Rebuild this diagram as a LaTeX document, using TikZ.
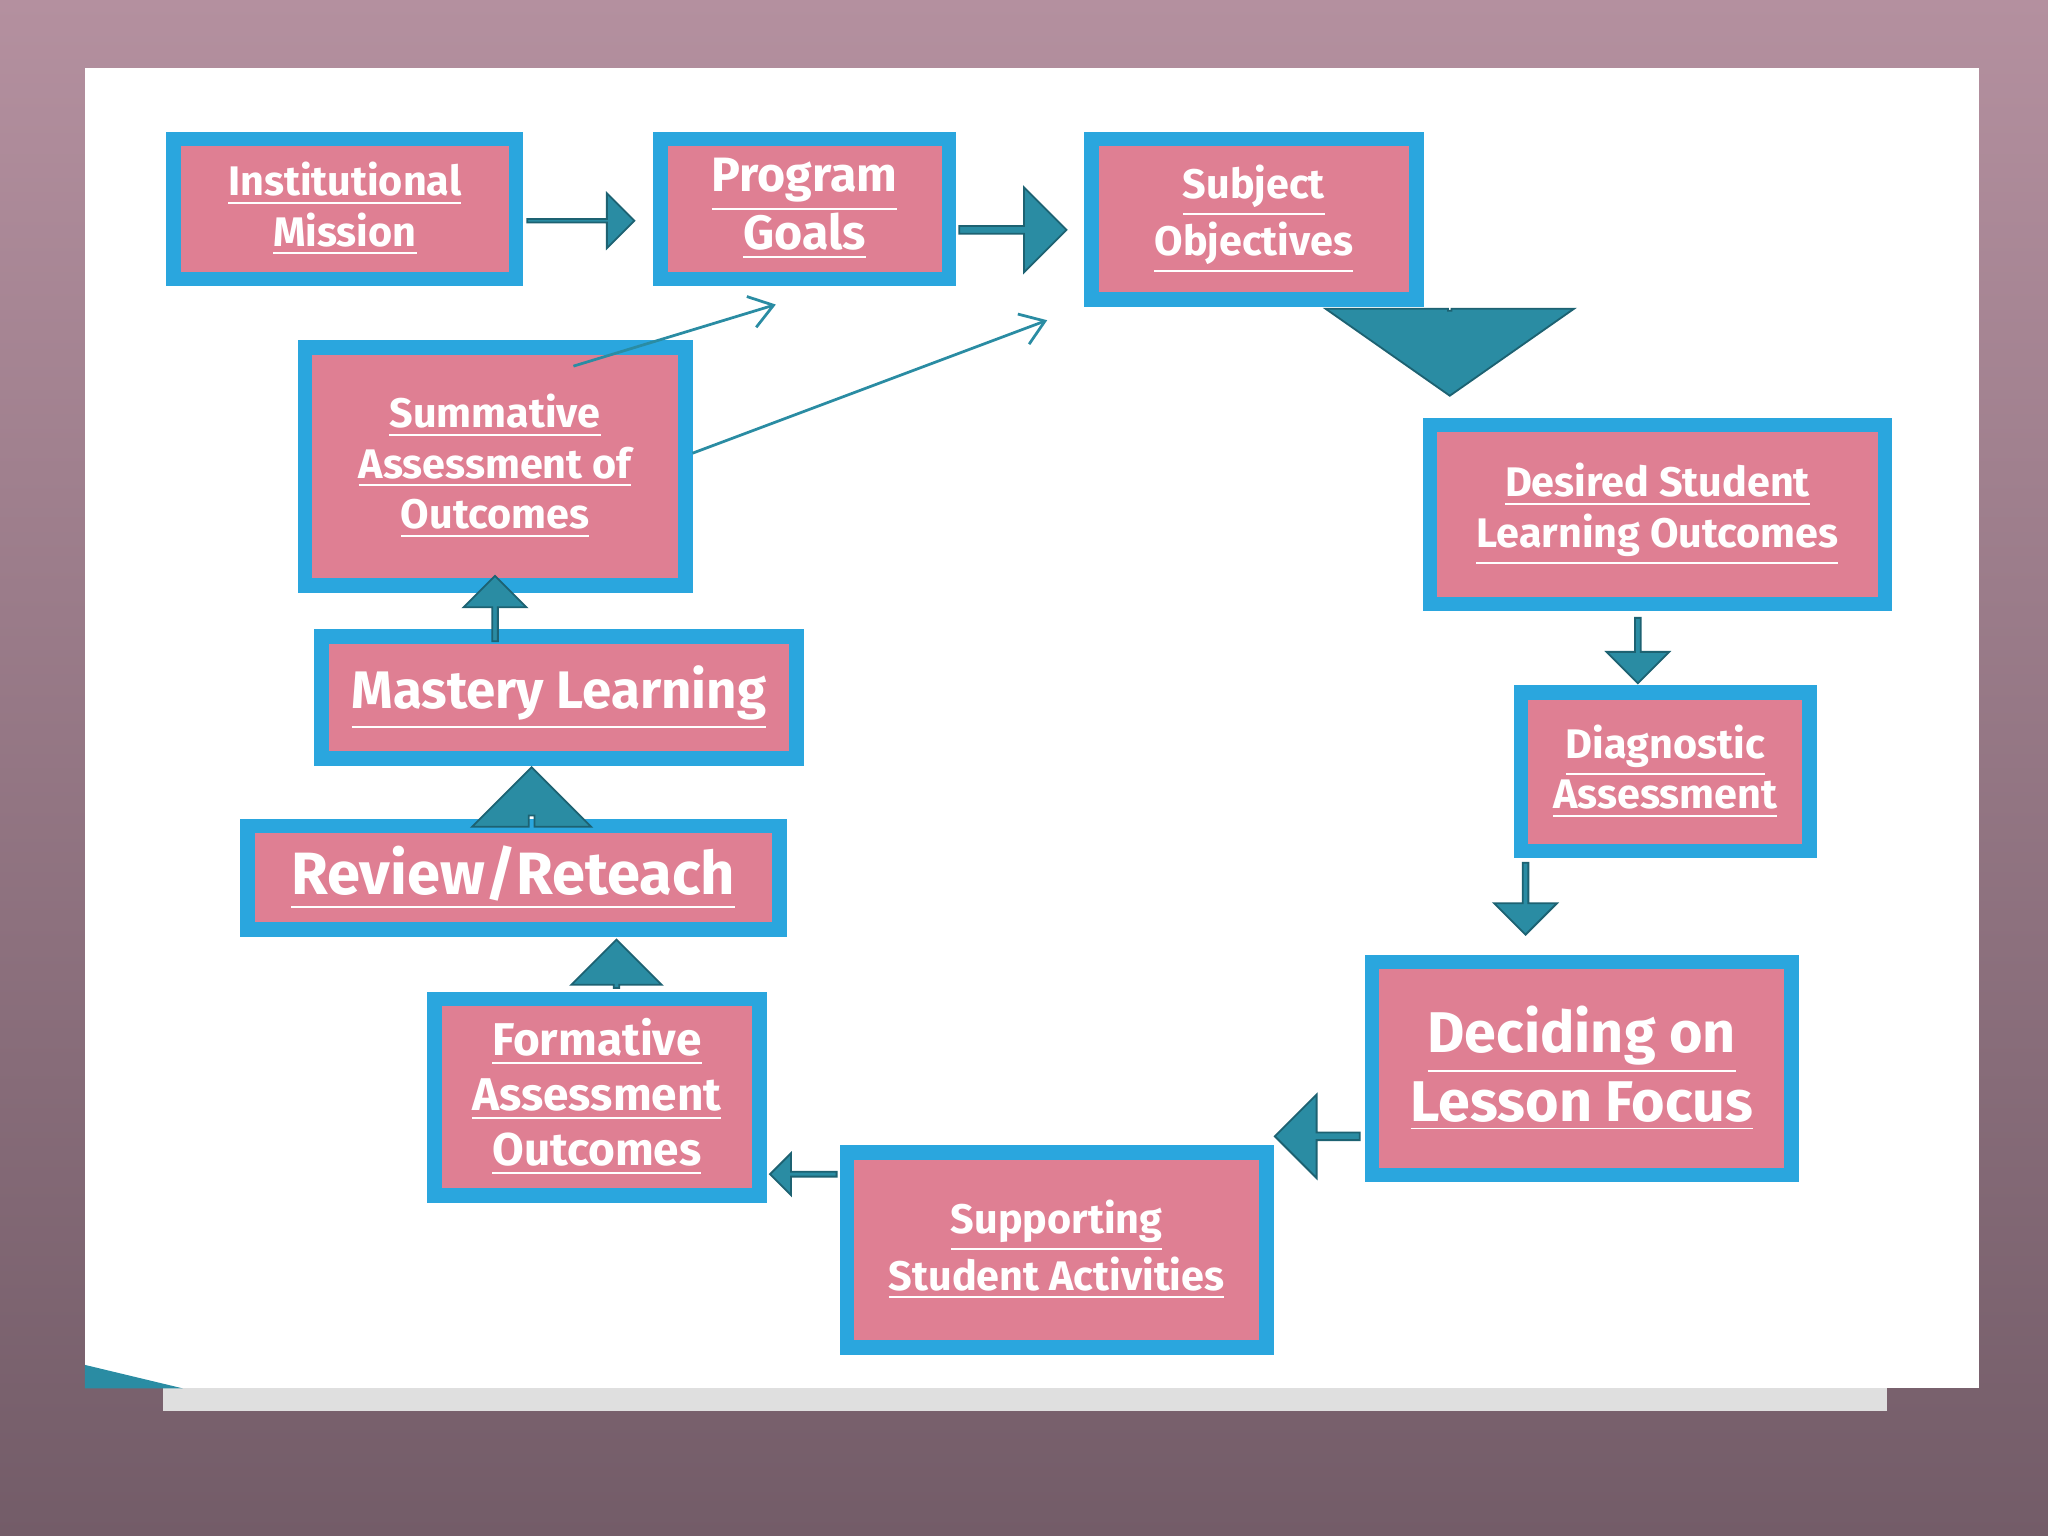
\documentclass[tikz,border=0pt]{standalone}
\usepackage{fontspec}
\setmainfont{Fira Sans}
\usetikzlibrary{shapes.arrows,arrows.meta}
\definecolor{pinkbox}{HTML}{DF7F93}
\definecolor{bluebd}{HTML}{2AA6DE}
\definecolor{teal}{HTML}{2A8CA3}
\definecolor{bgtop}{HTML}{B4909F}
\definecolor{bgbot}{HTML}{735C68}
\tikzset{
 bx/.style={draw=bluebd,line width=3.2pt,fill=pinkbox,inner sep=0pt,align=center,text=white,font=\bfseries\fontsize{9}{11}\selectfont,
   append after command={[draw=gray!70,line width=0.5pt] (\tikzlastnode.south west) ++(4pt,4pt) rectangle ([xshift=-4pt,yshift=-4pt]\tikzlastnode.north east)}},
 blk/.style={single arrow,fill=teal,draw=teal!70!black,line width=0.4pt,inner sep=0pt,single arrow head extend=4pt},
 thin/.style={teal,line width=0.6pt,-{Straight Barb[length=5pt,width=7pt]}}
}
\newcommand{\ul}[1]{\underline{#1}}
\begin{document}
\begin{tikzpicture}[x=0.01cm,y=-0.01cm]
\shade[top color=bgtop,bottom color=bgbot] (0,0) rectangle (1568,1176);
\fill[gray!25] (125,1063) rectangle (1445,1080);
\fill[white] (65,52) rectangle (1515,1063);
\fill[teal] (65,1045) -- (140,1063) -- (65,1063) -- cycle;
\useasboundingbox (0,0) rectangle (1568,1176);
% boxes
\node[bx,minimum width=2.62cm,minimum height=1.07cm] (im) at (264,160) {\ul{Institutional}\\\ul{Mission}};
\node[bx,minimum width=2.21cm,minimum height=1.07cm,font=\bfseries\fontsize{10.5}{12.5}\selectfont] (pg) at (616,160) {\ul{Program}\\\ul{Goals}};
\node[bx,minimum width=2.49cm,minimum height=1.23cm] (so) at (960,168) {\ul{Subject}\\\ul{Objectives}};
\node[bx,minimum width=3.48cm,minimum height=1.37cm] (ds) at (1269,394) {\ul{Desired Student}\\\ul{Learning Outcomes}};
\node[bx,minimum width=2.21cm,minimum height=1.21cm] (da) at (1275,591) {\ul{Diagnostic}\\\ul{Assessment}};
\node[bx,minimum width=3.21cm,minimum height=1.63cm,font=\bfseries\fontsize{12.5}{15}\selectfont] (dl) at (1211,818) {\ul{Deciding on}\\\ul{Lesson Focus}};
\node[bx,minimum width=3.21cm,minimum height=1.49cm] (ss) at (809,957) {\ul{Supporting}\\\ul{Student Activities}};
\node[bx,minimum width=2.49cm,minimum height=1.5cm,font=\bfseries\fontsize{10}{12}\selectfont] (fa) at (457,840) {\ul{Formative}\\\ul{Assessment}\\\ul{Outcomes}};
\node[bx,minimum width=4.07cm,minimum height=0.79cm,font=\bfseries\fontsize{13}{15}\selectfont] (rr) at (393,672) {\ul{Review/Reteach}};
\node[bx,minimum width=3.63cm,minimum height=0.93cm,font=\bfseries\fontsize{11.5}{14}\selectfont] (ml) at (428,534) {\ul{Mastery Learning}};
\node[bx,minimum width=2.91cm,minimum height=1.82cm] (sa) at (379,357) {\ul{Summative}\\\ul{Assessment of}\\\ul{Outcomes}};
% block arrows
\node[blk,minimum height=0.82cm,minimum width=0.42cm,single arrow head extend=3pt] (a1) at (444,169) {};
\node[blk,minimum height=0.82cm,minimum width=0.65cm,single arrow head extend=2pt] (a2) at (774,176) {};
\node[blk,minimum height=0.65cm,minimum width=1.9cm,single arrow head extend=0.5cm,shape border rotate=270,single arrow tip angle=110] (a3) at (1110,270) {};
\node[blk,minimum height=0.5cm,minimum width=0.48cm,single arrow head extend=2pt,shape border rotate=270] (a4) at (1254,497) {};
\node[blk,minimum height=0.55cm,minimum width=0.48cm,single arrow head extend=2pt,shape border rotate=270] (a5) at (1168,687) {};
\node[blk,minimum height=0.65cm,minimum width=0.64cm,single arrow head extend=2pt,shape border rotate=180] (a6) at (1010,870) {};
\node[blk,minimum height=0.51cm,minimum width=0.32cm,single arrow head extend=1.5pt,shape border rotate=180] (a7) at (616,899) {};
\node[blk,minimum height=0.37cm,minimum width=0.69cm,single arrow head extend=3pt,shape border rotate=90] (a8) at (472,739) {};
\node[blk,minimum height=0.37cm,minimum width=0.91cm,single arrow head extend=4pt,shape border rotate=90] (a9) at (407,607) {};
\node[blk,minimum height=0.5cm,minimum width=0.48cm,single arrow head extend=2pt,shape border rotate=90] (a10) at (379,467) {};
% thin arrows
\draw[thin] ([xshift=0.6cm,yshift=-0.2cm]sa.north) -- ([xshift=-0.22cm,yshift=-0.14cm]pg.south);
\draw[thin] ([yshift=0.1cm]sa.east) -- ([xshift=-0.28cm,yshift=-0.1cm]so.south west);
\end{tikzpicture}
\end{document}
